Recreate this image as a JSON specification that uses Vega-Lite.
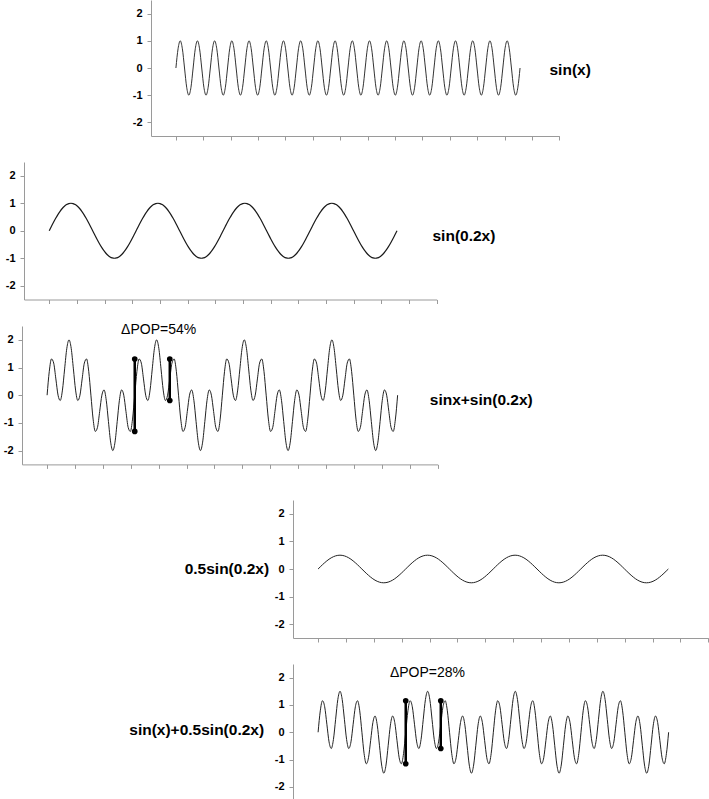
{
  "$schema": "https://vega.github.io/schema/vega-lite/v6.json",
  "padding": 0,
  "background": "white",
  "spacing": 0,
  "config": {
    "view": {"stroke": null},
    "font": "Liberation Sans",
    "axis": {
      "grid": false,
      "domainColor": "#9a9a9a",
      "tickColor": "#9a9a9a",
      "domainWidth": 1,
      "tickWidth": 1,
      "tickSize": 4,
      "labelFont": "Liberation Sans",
      "labelFontSize": 11,
      "labelFontWeight": "bold",
      "labelColor": "#000000",
      "labelPadding": 5,
      "labelOverlap": false,
      "titleFont": "Liberation Sans",
      "titleFontSize": 15.5,
      "titleFontWeight": "bold",
      "titleColor": "#000000",
      "titleAngle": 0,
      "titleBaseline": "middle"
    }
  },
  "datasets": {
    "waves": [
      {"x":0,"s1":0,"s2":0,"s3":0,"s4":0,"s5":0},
      {"x":0.785,"s1":0.707,"s2":0.156,"s3":0.863,"s4":0.078,"s5":0.785},
      {"x":1.571,"s1":1,"s2":0.309,"s3":1.309,"s4":0.155,"s5":1.155},
      {"x":2.356,"s1":0.707,"s2":0.454,"s3":1.161,"s4":0.227,"s5":0.934},
      {"x":3.142,"s1":0,"s2":0.588,"s3":0.588,"s4":0.294,"s5":0.294},
      {"x":3.927,"s1":-0.707,"s2":0.707,"s3":0,"s4":0.354,"s5":-0.354},
      {"x":4.712,"s1":-1,"s2":0.809,"s3":-0.191,"s4":0.405,"s5":-0.595},
      {"x":5.498,"s1":-0.707,"s2":0.891,"s3":0.184,"s4":0.446,"s5":-0.262},
      {"x":6.283,"s1":0,"s2":0.951,"s3":0.951,"s4":0.476,"s5":0.476},
      {"x":7.069,"s1":0.707,"s2":0.988,"s3":1.695,"s4":0.494,"s5":1.201},
      {"x":7.854,"s1":1,"s2":1,"s3":2,"s4":0.5,"s5":1.5},
      {"x":8.639,"s1":0.707,"s2":0.988,"s3":1.695,"s4":0.494,"s5":1.201},
      {"x":9.425,"s1":0,"s2":0.951,"s3":0.951,"s4":0.476,"s5":0.476},
      {"x":10.21,"s1":-0.707,"s2":0.891,"s3":0.184,"s4":0.446,"s5":-0.262},
      {"x":10.996,"s1":-1,"s2":0.809,"s3":-0.191,"s4":0.405,"s5":-0.595},
      {"x":11.781,"s1":-0.707,"s2":0.707,"s3":0,"s4":0.354,"s5":-0.354},
      {"x":12.566,"s1":0,"s2":0.588,"s3":0.588,"s4":0.294,"s5":0.294},
      {"x":13.352,"s1":0.707,"s2":0.454,"s3":1.161,"s4":0.227,"s5":0.934},
      {"x":14.137,"s1":1,"s2":0.309,"s3":1.309,"s4":0.155,"s5":1.155},
      {"x":14.923,"s1":0.707,"s2":0.156,"s3":0.863,"s4":0.078,"s5":0.785},
      {"x":15.708,"s1":0,"s2":0,"s3":0,"s4":0,"s5":0},
      {"x":16.493,"s1":-0.707,"s2":-0.156,"s3":-0.863,"s4":-0.078,"s5":-0.785},
      {"x":17.279,"s1":-1,"s2":-0.309,"s3":-1.309,"s4":-0.155,"s5":-1.155},
      {"x":18.064,"s1":-0.707,"s2":-0.454,"s3":-1.161,"s4":-0.227,"s5":-0.934},
      {"x":18.85,"s1":0,"s2":-0.588,"s3":-0.588,"s4":-0.294,"s5":-0.294},
      {"x":19.635,"s1":0.707,"s2":-0.707,"s3":0,"s4":-0.354,"s5":0.354},
      {"x":20.42,"s1":1,"s2":-0.809,"s3":0.191,"s4":-0.405,"s5":0.595},
      {"x":21.206,"s1":0.707,"s2":-0.891,"s3":-0.184,"s4":-0.446,"s5":0.262},
      {"x":21.991,"s1":0,"s2":-0.951,"s3":-0.951,"s4":-0.476,"s5":-0.476},
      {"x":22.777,"s1":-0.707,"s2":-0.988,"s3":-1.695,"s4":-0.494,"s5":-1.201},
      {"x":23.562,"s1":-1,"s2":-1,"s3":-2,"s4":-0.5,"s5":-1.5},
      {"x":24.347,"s1":-0.707,"s2":-0.988,"s3":-1.695,"s4":-0.494,"s5":-1.201},
      {"x":25.133,"s1":0,"s2":-0.951,"s3":-0.951,"s4":-0.476,"s5":-0.476},
      {"x":25.918,"s1":0.707,"s2":-0.891,"s3":-0.184,"s4":-0.446,"s5":0.262},
      {"x":26.704,"s1":1,"s2":-0.809,"s3":0.191,"s4":-0.405,"s5":0.595},
      {"x":27.489,"s1":0.707,"s2":-0.707,"s3":0,"s4":-0.354,"s5":0.354},
      {"x":28.274,"s1":0,"s2":-0.588,"s3":-0.588,"s4":-0.294,"s5":-0.294},
      {"x":29.06,"s1":-0.707,"s2":-0.454,"s3":-1.161,"s4":-0.227,"s5":-0.934},
      {"x":29.845,"s1":-1,"s2":-0.309,"s3":-1.309,"s4":-0.155,"s5":-1.155},
      {"x":30.631,"s1":-0.707,"s2":-0.156,"s3":-0.863,"s4":-0.078,"s5":-0.785},
      {"x":31.416,"s1":0,"s2":0,"s3":0,"s4":0,"s5":0},
      {"x":32.201,"s1":0.707,"s2":0.156,"s3":0.863,"s4":0.078,"s5":0.785},
      {"x":32.987,"s1":1,"s2":0.309,"s3":1.309,"s4":0.155,"s5":1.155},
      {"x":33.772,"s1":0.707,"s2":0.454,"s3":1.161,"s4":0.227,"s5":0.934},
      {"x":34.558,"s1":0,"s2":0.588,"s3":0.588,"s4":0.294,"s5":0.294},
      {"x":35.343,"s1":-0.707,"s2":0.707,"s3":0,"s4":0.354,"s5":-0.354},
      {"x":36.128,"s1":-1,"s2":0.809,"s3":-0.191,"s4":0.405,"s5":-0.595},
      {"x":36.914,"s1":-0.707,"s2":0.891,"s3":0.184,"s4":0.446,"s5":-0.262},
      {"x":37.699,"s1":0,"s2":0.951,"s3":0.951,"s4":0.476,"s5":0.476},
      {"x":38.485,"s1":0.707,"s2":0.988,"s3":1.695,"s4":0.494,"s5":1.201},
      {"x":39.27,"s1":1,"s2":1,"s3":2,"s4":0.5,"s5":1.5},
      {"x":40.055,"s1":0.707,"s2":0.988,"s3":1.695,"s4":0.494,"s5":1.201},
      {"x":40.841,"s1":0,"s2":0.951,"s3":0.951,"s4":0.476,"s5":0.476},
      {"x":41.626,"s1":-0.707,"s2":0.891,"s3":0.184,"s4":0.446,"s5":-0.262},
      {"x":42.412,"s1":-1,"s2":0.809,"s3":-0.191,"s4":0.405,"s5":-0.595},
      {"x":43.197,"s1":-0.707,"s2":0.707,"s3":0,"s4":0.354,"s5":-0.354},
      {"x":43.982,"s1":0,"s2":0.588,"s3":0.588,"s4":0.294,"s5":0.294},
      {"x":44.768,"s1":0.707,"s2":0.454,"s3":1.161,"s4":0.227,"s5":0.934},
      {"x":45.553,"s1":1,"s2":0.309,"s3":1.309,"s4":0.155,"s5":1.155},
      {"x":46.338,"s1":0.707,"s2":0.156,"s3":0.863,"s4":0.078,"s5":0.785},
      {"x":47.124,"s1":0,"s2":0,"s3":0,"s4":0,"s5":0},
      {"x":47.909,"s1":-0.707,"s2":-0.156,"s3":-0.863,"s4":-0.078,"s5":-0.785},
      {"x":48.695,"s1":-1,"s2":-0.309,"s3":-1.309,"s4":-0.155,"s5":-1.155},
      {"x":49.48,"s1":-0.707,"s2":-0.454,"s3":-1.161,"s4":-0.227,"s5":-0.934},
      {"x":50.265,"s1":0,"s2":-0.588,"s3":-0.588,"s4":-0.294,"s5":-0.294},
      {"x":51.051,"s1":0.707,"s2":-0.707,"s3":0,"s4":-0.354,"s5":0.354},
      {"x":51.836,"s1":1,"s2":-0.809,"s3":0.191,"s4":-0.405,"s5":0.595},
      {"x":52.622,"s1":0.707,"s2":-0.891,"s3":-0.184,"s4":-0.446,"s5":0.262},
      {"x":53.407,"s1":0,"s2":-0.951,"s3":-0.951,"s4":-0.476,"s5":-0.476},
      {"x":54.192,"s1":-0.707,"s2":-0.988,"s3":-1.695,"s4":-0.494,"s5":-1.201},
      {"x":54.978,"s1":-1,"s2":-1,"s3":-2,"s4":-0.5,"s5":-1.5},
      {"x":55.763,"s1":-0.707,"s2":-0.988,"s3":-1.695,"s4":-0.494,"s5":-1.201},
      {"x":56.549,"s1":0,"s2":-0.951,"s3":-0.951,"s4":-0.476,"s5":-0.476},
      {"x":57.334,"s1":0.707,"s2":-0.891,"s3":-0.184,"s4":-0.446,"s5":0.262},
      {"x":58.119,"s1":1,"s2":-0.809,"s3":0.191,"s4":-0.405,"s5":0.595},
      {"x":58.905,"s1":0.707,"s2":-0.707,"s3":0,"s4":-0.354,"s5":0.354},
      {"x":59.69,"s1":0,"s2":-0.588,"s3":-0.588,"s4":-0.294,"s5":-0.294},
      {"x":60.476,"s1":-0.707,"s2":-0.454,"s3":-1.161,"s4":-0.227,"s5":-0.934},
      {"x":61.261,"s1":-1,"s2":-0.309,"s3":-1.309,"s4":-0.155,"s5":-1.155},
      {"x":62.046,"s1":-0.707,"s2":-0.156,"s3":-0.863,"s4":-0.078,"s5":-0.785},
      {"x":62.832,"s1":0,"s2":0,"s3":0,"s4":0,"s5":0},
      {"x":63.617,"s1":0.707,"s2":0.156,"s3":0.863,"s4":0.078,"s5":0.785},
      {"x":64.403,"s1":1,"s2":0.309,"s3":1.309,"s4":0.155,"s5":1.155},
      {"x":65.188,"s1":0.707,"s2":0.454,"s3":1.161,"s4":0.227,"s5":0.934},
      {"x":65.973,"s1":0,"s2":0.588,"s3":0.588,"s4":0.294,"s5":0.294},
      {"x":66.759,"s1":-0.707,"s2":0.707,"s3":0,"s4":0.354,"s5":-0.354},
      {"x":67.544,"s1":-1,"s2":0.809,"s3":-0.191,"s4":0.405,"s5":-0.595},
      {"x":68.33,"s1":-0.707,"s2":0.891,"s3":0.184,"s4":0.446,"s5":-0.262},
      {"x":69.115,"s1":0,"s2":0.951,"s3":0.951,"s4":0.476,"s5":0.476},
      {"x":69.9,"s1":0.707,"s2":0.988,"s3":1.695,"s4":0.494,"s5":1.201},
      {"x":70.686,"s1":1,"s2":1,"s3":2,"s4":0.5,"s5":1.5},
      {"x":71.471,"s1":0.707,"s2":0.988,"s3":1.695,"s4":0.494,"s5":1.201},
      {"x":72.257,"s1":0,"s2":0.951,"s3":0.951,"s4":0.476,"s5":0.476},
      {"x":73.042,"s1":-0.707,"s2":0.891,"s3":0.184,"s4":0.446,"s5":-0.262},
      {"x":73.827,"s1":-1,"s2":0.809,"s3":-0.191,"s4":0.405,"s5":-0.595},
      {"x":74.613,"s1":-0.707,"s2":0.707,"s3":0,"s4":0.354,"s5":-0.354},
      {"x":75.398,"s1":0,"s2":0.588,"s3":0.588,"s4":0.294,"s5":0.294},
      {"x":76.184,"s1":0.707,"s2":0.454,"s3":1.161,"s4":0.227,"s5":0.934},
      {"x":76.969,"s1":1,"s2":0.309,"s3":1.309,"s4":0.155,"s5":1.155},
      {"x":77.754,"s1":0.707,"s2":0.156,"s3":0.863,"s4":0.078,"s5":0.785},
      {"x":78.54,"s1":0,"s2":0,"s3":0,"s4":0,"s5":0},
      {"x":79.325,"s1":-0.707,"s2":-0.156,"s3":-0.863,"s4":-0.078,"s5":-0.785},
      {"x":80.111,"s1":-1,"s2":-0.309,"s3":-1.309,"s4":-0.155,"s5":-1.155},
      {"x":80.896,"s1":-0.707,"s2":-0.454,"s3":-1.161,"s4":-0.227,"s5":-0.934},
      {"x":81.681,"s1":0,"s2":-0.588,"s3":-0.588,"s4":-0.294,"s5":-0.294},
      {"x":82.467,"s1":0.707,"s2":-0.707,"s3":0,"s4":-0.354,"s5":0.354},
      {"x":83.252,"s1":1,"s2":-0.809,"s3":0.191,"s4":-0.405,"s5":0.595},
      {"x":84.038,"s1":0.707,"s2":-0.891,"s3":-0.184,"s4":-0.446,"s5":0.262},
      {"x":84.823,"s1":0,"s2":-0.951,"s3":-0.951,"s4":-0.476,"s5":-0.476},
      {"x":85.608,"s1":-0.707,"s2":-0.988,"s3":-1.695,"s4":-0.494,"s5":-1.201},
      {"x":86.394,"s1":-1,"s2":-1,"s3":-2,"s4":-0.5,"s5":-1.5},
      {"x":87.179,"s1":-0.707,"s2":-0.988,"s3":-1.695,"s4":-0.494,"s5":-1.201},
      {"x":87.965,"s1":0,"s2":-0.951,"s3":-0.951,"s4":-0.476,"s5":-0.476},
      {"x":88.75,"s1":0.707,"s2":-0.891,"s3":-0.184,"s4":-0.446,"s5":0.262},
      {"x":89.535,"s1":1,"s2":-0.809,"s3":0.191,"s4":-0.405,"s5":0.595},
      {"x":90.321,"s1":0.707,"s2":-0.707,"s3":0,"s4":-0.354,"s5":0.354},
      {"x":91.106,"s1":0,"s2":-0.588,"s3":-0.588,"s4":-0.294,"s5":-0.294},
      {"x":91.892,"s1":-0.707,"s2":-0.454,"s3":-1.161,"s4":-0.227,"s5":-0.934},
      {"x":92.677,"s1":-1,"s2":-0.309,"s3":-1.309,"s4":-0.155,"s5":-1.155},
      {"x":93.462,"s1":-0.707,"s2":-0.156,"s3":-0.863,"s4":-0.078,"s5":-0.785},
      {"x":94.248,"s1":0,"s2":0,"s3":0,"s4":0,"s5":0},
      {"x":95.033,"s1":0.707,"s2":0.156,"s3":0.863,"s4":0.078,"s5":0.785},
      {"x":95.819,"s1":1,"s2":0.309,"s3":1.309,"s4":0.155,"s5":1.155},
      {"x":96.604,"s1":0.707,"s2":0.454,"s3":1.161,"s4":0.227,"s5":0.934},
      {"x":97.389,"s1":0,"s2":0.588,"s3":0.588,"s4":0.294,"s5":0.294},
      {"x":98.175,"s1":-0.707,"s2":0.707,"s3":0,"s4":0.354,"s5":-0.354},
      {"x":98.96,"s1":-1,"s2":0.809,"s3":-0.191,"s4":0.405,"s5":-0.595},
      {"x":99.746,"s1":-0.707,"s2":0.891,"s3":0.184,"s4":0.446,"s5":-0.262},
      {"x":100.531,"s1":0,"s2":0.951,"s3":0.951,"s4":0.476,"s5":0.476},
      {"x":101.316,"s1":0.707,"s2":0.988,"s3":1.695,"s4":0.494,"s5":1.201},
      {"x":102.102,"s1":1,"s2":1,"s3":2,"s4":0.5,"s5":1.5},
      {"x":102.887,"s1":0.707,"s2":0.988,"s3":1.695,"s4":0.494,"s5":1.201},
      {"x":103.673,"s1":0,"s2":0.951,"s3":0.951,"s4":0.476,"s5":0.476},
      {"x":104.458,"s1":-0.707,"s2":0.891,"s3":0.184,"s4":0.446,"s5":-0.262},
      {"x":105.243,"s1":-1,"s2":0.809,"s3":-0.191,"s4":0.405,"s5":-0.595},
      {"x":106.029,"s1":-0.707,"s2":0.707,"s3":0,"s4":0.354,"s5":-0.354},
      {"x":106.814,"s1":0,"s2":0.588,"s3":0.588,"s4":0.294,"s5":0.294},
      {"x":107.6,"s1":0.707,"s2":0.454,"s3":1.161,"s4":0.227,"s5":0.934},
      {"x":108.385,"s1":1,"s2":0.309,"s3":1.309,"s4":0.155,"s5":1.155},
      {"x":109.17,"s1":0.707,"s2":0.156,"s3":0.863,"s4":0.078,"s5":0.785},
      {"x":109.956,"s1":0,"s2":0,"s3":0,"s4":0,"s5":0},
      {"x":110.741,"s1":-0.707,"s2":-0.156,"s3":-0.863,"s4":-0.078,"s5":-0.785},
      {"x":111.527,"s1":-1,"s2":-0.309,"s3":-1.309,"s4":-0.155,"s5":-1.155},
      {"x":112.312,"s1":-0.707,"s2":-0.454,"s3":-1.161,"s4":-0.227,"s5":-0.934},
      {"x":113.097,"s1":0,"s2":-0.588,"s3":-0.588,"s4":-0.294,"s5":-0.294},
      {"x":113.883,"s1":0.707,"s2":-0.707,"s3":0,"s4":-0.354,"s5":0.354},
      {"x":114.668,"s1":1,"s2":-0.809,"s3":0.191,"s4":-0.405,"s5":0.595},
      {"x":115.454,"s1":0.707,"s2":-0.891,"s3":-0.184,"s4":-0.446,"s5":0.262},
      {"x":116.239,"s1":0,"s2":-0.951,"s3":-0.951,"s4":-0.476,"s5":-0.476},
      {"x":117.024,"s1":-0.707,"s2":-0.988,"s3":-1.695,"s4":-0.494,"s5":-1.201},
      {"x":117.81,"s1":-1,"s2":-1,"s3":-2,"s4":-0.5,"s5":-1.5},
      {"x":118.595,"s1":-0.707,"s2":-0.988,"s3":-1.695,"s4":-0.494,"s5":-1.201},
      {"x":119.381,"s1":0,"s2":-0.951,"s3":-0.951,"s4":-0.476,"s5":-0.476},
      {"x":120.166,"s1":0.707,"s2":-0.891,"s3":-0.184,"s4":-0.446,"s5":0.262},
      {"x":120.951,"s1":1,"s2":-0.809,"s3":0.191,"s4":-0.405,"s5":0.595},
      {"x":121.737,"s1":0.707,"s2":-0.707,"s3":0,"s4":-0.354,"s5":0.354},
      {"x":122.522,"s1":0,"s2":-0.588,"s3":-0.588,"s4":-0.294,"s5":-0.294},
      {"x":123.308,"s1":-0.707,"s2":-0.454,"s3":-1.161,"s4":-0.227,"s5":-0.934},
      {"x":124.093,"s1":-1,"s2":-0.309,"s3":-1.309,"s4":-0.155,"s5":-1.155},
      {"x":124.878,"s1":-0.707,"s2":-0.156,"s3":-0.863,"s4":-0.078,"s5":-0.785},
      {"x":125.664,"s1":0,"s2":0,"s3":0,"s4":0,"s5":0}
    ],
    "pop": [
      {"p":"c","seg":1,"x":31.416,"y":-1.309},
      {"p":"c","seg":1,"x":31.416,"y":1.309},
      {"p":"c","seg":2,"x":43.982,"y":-0.191},
      {"p":"c","seg":2,"x":43.982,"y":1.309},
      {"p":"e","seg":1,"x":31.416,"y":-1.155},
      {"p":"e","seg":1,"x":31.416,"y":1.155},
      {"p":"e","seg":2,"x":43.982,"y":-0.595},
      {"p":"e","seg":2,"x":43.982,"y":1.155}
    ]
  },
  "vconcat": [
    {
      "bounds": "flush",
      "spacing": 0,
      "hconcat": [
        {
          "width": 151, "height": 162,
          "data": {"values": [{}]},
          "mark": {"type": "rect", "opacity": 0},
          "encoding": {"x": {"value": 0}, "x2": {"value": "width"}, "y": {"value": 0}, "y2": {"value": "height"}}
        },
        {
          "width": 408.3, "height": 136,
          "data": {"name": "waves"},
          "mark": {"type": "line", "interpolate": "monotone", "color": "#333333", "strokeWidth": 1},
          "encoding": {
            "x": {"field": "x", "type": "quantitative", "scale": {"domain": [-9.1, 140], "nice": false, "zero": false},
                  "axis": {"title": null, "labels": false, "values": [0,10,20,30,40,50,60,70,80,90,100,110,120,130,140]}},
            "y": {"field": "s1", "type": "quantitative", "scale": {"domain": [-2.5, 2.5], "nice": false},
                  "axis": {"values": [-2,-1,0,1,2], "labelExpr": "toString(datum.value)", "title": "sin(x)", "titleX": 398, "titleY": 69, "titleAlign": "left"}}
          }
        }
      ]
    },
    {
      "bounds": "flush",
      "spacing": 0,
      "hconcat": [
        {
          "width": 24, "height": 159.2,
          "data": {"values": [{}]},
          "mark": {"type": "rect", "opacity": 0},
          "encoding": {"x": {"value": 0}, "x2": {"value": "width"}, "y": {"value": 0}, "y2": {"value": "height"}}
        },
        {
          "width": 412.7, "height": 137.5,
          "data": {"name": "waves"},
          "mark": {"type": "line", "interpolate": "monotone", "color": "#1a1a1a", "strokeWidth": 1.2},
          "encoding": {
            "x": {"field": "x", "type": "quantitative", "scale": {"domain": [-9.1, 140], "nice": false, "zero": false},
                  "axis": {"title": null, "labels": false, "values": [0,10,20,30,40,50,60,70,80,90,100,110,120,130,140]}},
            "y": {"field": "s2", "type": "quantitative", "scale": {"domain": [-2.5, 2.5], "nice": false},
                  "axis": {"values": [-2,-1,0,1,2], "labelExpr": "toString(datum.value)", "title": "sin(0.2x)", "titleX": 408, "titleY": 73, "titleAlign": "left"}}
          }
        }
      ]
    },
    {
      "bounds": "flush",
      "spacing": 0,
      "hconcat": [
        {
          "width": 21.7, "height": 173.3,
          "data": {"values": [{}]},
          "mark": {"type": "rect", "opacity": 0},
          "encoding": {"x": {"value": 0}, "x2": {"value": "width"}, "y": {"value": 0}, "y2": {"value": "height"}}
        },
        {
          "width": 415.6, "height": 138.4,
          "layer": [
            {
              "data": {"name": "waves"},
              "mark": {"type": "line", "interpolate": "monotone", "color": "#222222", "strokeWidth": 1},
              "encoding": {
                "x": {"field": "x", "type": "quantitative", "scale": {"domain": [-9, 140], "nice": false, "zero": false},
                      "axis": {"title": null, "labels": false, "values": [0,10,20,30,40,50,60,70,80,90,100,110,120,130,140]}},
                "y": {"field": "s3", "type": "quantitative", "scale": {"domain": [-2.5, 2.5], "nice": false},
                      "axis": {"values": [-2,-1,0,1,2], "labelExpr": "toString(datum.value)", "title": "sinx+sin(0.2x)", "titleX": 407.3, "titleY": 73.8, "titleAlign": "left"}}
              }
            },
            {
              "data": {"name": "pop"},
              "transform": [{"filter": "datum.p == 'c'"}],
              "mark": {"type": "line", "color": "#000000", "strokeWidth": 2.5, "point": {"filled": true, "size": 32, "color": "#000000", "opacity": 1}},
              "encoding": {
                "x": {"field": "x", "type": "quantitative", "scale": {"domain": [-9, 140], "nice": false, "zero": false},
                      "axis": {"title": null, "labels": false, "values": [0,10,20,30,40,50,60,70,80,90,100,110,120,130,140]}},
                "y": {"field": "y", "type": "quantitative", "scale": {"domain": [-2.5, 2.5], "nice": false},
                      "axis": {"values": [-2,-1,0,1,2], "labelExpr": "toString(datum.value)", "title": "sinx+sin(0.2x)", "titleX": 407.3, "titleY": 73.8, "titleAlign": "left"}},
                "detail": {"field": "seg", "type": "nominal"}
              }
            },
            {
              "data": {"values": [{"t": "ΔPOP=54%"}]},
              "mark": {"type": "text", "font": "Liberation Sans", "fontSize": 14, "color": "#000000"},
              "encoding": {
                "x": {"datum": 40, "type": "quantitative", "scale": {"domain": [-9, 140], "nice": false, "zero": false},
                      "axis": {"title": null, "labels": false, "values": [0,10,20,30,40,50,60,70,80,90,100,110,120,130,140]}},
                "y": {"datum": 2.36, "type": "quantitative", "scale": {"domain": [-2.5, 2.5], "nice": false},
                      "axis": {"values": [-2,-1,0,1,2], "labelExpr": "toString(datum.value)", "title": "sinx+sin(0.2x)", "titleX": 407.3, "titleY": 73.8, "titleAlign": "left"}},
                "text": {"field": "t"}
              }
            }
          ]
        }
      ]
    },
    {
      "bounds": "flush",
      "spacing": 0,
      "hconcat": [
        {
          "width": 292.7, "height": 163.2,
          "data": {"values": [{}]},
          "mark": {"type": "rect", "opacity": 0},
          "encoding": {"x": {"value": 0}, "x2": {"value": "width"}, "y": {"value": 0}, "y2": {"value": "height"}}
        },
        {
          "width": 415.3, "height": 138,
          "data": {"name": "waves"},
          "mark": {"type": "line", "interpolate": "monotone", "color": "#222222", "strokeWidth": 1},
          "encoding": {
            "x": {"field": "x", "type": "quantitative", "scale": {"domain": [-9, 140], "nice": false, "zero": false},
                  "axis": {"title": null, "labels": false, "values": [0,10,20,30,40,50,60,70,80,90,100,110,120,130,140]}},
            "y": {"field": "s4", "type": "quantitative", "scale": {"domain": [-2.5, 2.5], "nice": false},
                  "axis": {"values": [-2,-1,0,1,2], "labelExpr": "toString(datum.value)", "title": "0.5sin(0.2x)", "titleX": -24.4, "titleY": 68.7, "titleAlign": "right"}}
          }
        }
      ]
    },
    {
      "bounds": "flush",
      "spacing": 0,
      "hconcat": [
        {
          "width": 292.7, "height": 137,
          "data": {"values": [{}]},
          "mark": {"type": "rect", "opacity": 0},
          "encoding": {"x": {"value": 0}, "x2": {"value": "width"}, "y": {"value": 0}, "y2": {"value": "height"}}
        },
        {
          "width": 415.6, "height": 136.5,
          "layer": [
            {
              "data": {"name": "waves"},
              "mark": {"type": "line", "interpolate": "monotone", "color": "#222222", "strokeWidth": 1},
              "encoding": {
                "x": {"field": "x", "type": "quantitative", "scale": {"domain": [-9, 140], "nice": false, "zero": false},
                      "axis": {"title": null, "labels": false, "values": [0,10,20,30,40,50,60,70,80,90,100,110,120,130,140]}},
                "y": {"field": "s5", "type": "quantitative", "scale": {"domain": [-2.5, 2.5], "nice": false},
                      "axis": {"values": [-2,-1,0,1,2], "labelExpr": "toString(datum.value)", "title": "sin(x)+0.5sin(0.2x)", "titleX": -29.4, "titleY": 65, "titleAlign": "right"}}
              }
            },
            {
              "data": {"name": "pop"},
              "transform": [{"filter": "datum.p == 'e'"}],
              "mark": {"type": "line", "color": "#000000", "strokeWidth": 2.5, "point": {"filled": true, "size": 32, "color": "#000000", "opacity": 1}},
              "encoding": {
                "x": {"field": "x", "type": "quantitative", "scale": {"domain": [-9, 140], "nice": false, "zero": false},
                      "axis": {"title": null, "labels": false, "values": [0,10,20,30,40,50,60,70,80,90,100,110,120,130,140]}},
                "y": {"field": "y", "type": "quantitative", "scale": {"domain": [-2.5, 2.5], "nice": false},
                      "axis": {"values": [-2,-1,0,1,2], "labelExpr": "toString(datum.value)", "title": "sin(x)+0.5sin(0.2x)", "titleX": -29.4, "titleY": 65, "titleAlign": "right"}},
                "detail": {"field": "seg", "type": "nominal"}
              }
            },
            {
              "data": {"values": [{"t": "ΔPOP=28%"}]},
              "mark": {"type": "text", "font": "Liberation Sans", "fontSize": 14, "color": "#000000"},
              "encoding": {
                "x": {"datum": 39.2, "type": "quantitative", "scale": {"domain": [-9, 140], "nice": false, "zero": false},
                      "axis": {"title": null, "labels": false, "values": [0,10,20,30,40,50,60,70,80,90,100,110,120,130,140]}},
                "y": {"datum": 2.18, "type": "quantitative", "scale": {"domain": [-2.5, 2.5], "nice": false},
                      "axis": {"values": [-2,-1,0,1,2], "labelExpr": "toString(datum.value)", "title": "sin(x)+0.5sin(0.2x)", "titleX": -29.4, "titleY": 65, "titleAlign": "right"}},
                "text": {"field": "t"}
              }
            }
          ]
        }
      ]
    }
  ]
}
